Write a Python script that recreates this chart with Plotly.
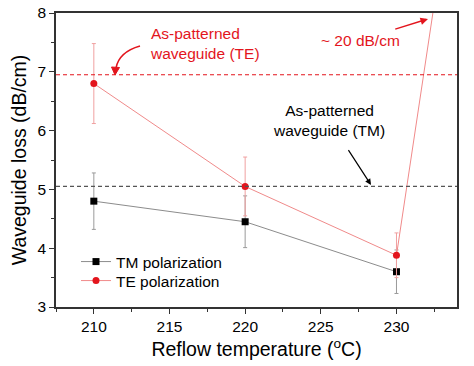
import plotly.graph_objects as go

# ---- data ----
tm_temps = [210, 220, 230]
tm_loss = [4.80, 4.45, 3.60]
tm_err = [0.48, 0.44, 0.37]

te_temps = [210, 220, 230, 240]
te_loss = [6.80, 5.05, 3.88, 21.0]
te_err = [0.68, 0.50, 0.38, 0.0]

te_as_patterned = 6.95
tm_as_patterned = 5.05

x_ticks = [210, 215, 220, 225, 230]
y_ticks = [3, 4, 5, 6, 7, 8]

# ---- layout geometry (pixels) ----
W, H = 474, 366
L, R, T, B = 56, 17, 13, 59
PW, PH = W - L - R, H - T - B

def px(xp):
    return (xp - L) / PW

def py(yp):
    return (H - B - yp) / PH

RED = "#e3151d"
FONT = "Arial, Liberation Sans, sans-serif"

fig = go.Figure()

fig.add_trace(go.Scatter(
    x=tm_temps, y=tm_loss, mode="lines+markers", name="TM polarization",
    legend="legend",
    line=dict(color="#8c8c8c", width=1),
    marker=dict(symbol="square", color="black", size=7),
    error_y=dict(type="data", array=tm_err, color="#9a9a9a", thickness=1, width=2),
))
fig.add_trace(go.Scatter(
    x=te_temps, y=te_loss, mode="lines+markers", name="TE polarization",
    legend="legend2",
    line=dict(color="#f08a8a", width=1),
    marker=dict(symbol="circle", color=RED, size=7),
    error_y=dict(type="data", array=te_err, color="#f0a0a0", thickness=1, width=2),
))

# reference dashed lines
fig.add_shape(type="line", xref="paper", x0=0, x1=1, yref="y",
              y0=te_as_patterned, y1=te_as_patterned,
              line=dict(color=RED, width=1.2, dash="4px,3px"))
fig.add_shape(type="line", xref="paper", x0=0, x1=1, yref="y",
              y0=tm_as_patterned, y1=tm_as_patterned,
              line=dict(color="#555555", width=1.2, dash="4px,3px"))

# curved arrow for TE label (curve + filled head)
fig.add_shape(type="path", xref="paper", yref="paper",
              path=f"M {px(140)},{py(46)} Q {px(119)},{py(52)} {px(116)},{py(68)}",
              line=dict(color=RED, width=1.5))
fig.add_shape(type="path", xref="paper", yref="paper",
              path=f"M {px(115)},{py(75)} L {px(111.5)},{py(67)} L {px(119.5)},{py(67.5)} Z",
              fillcolor=RED, line=dict(color=RED, width=1))

annotations = [
    dict(x=px(148), y=py(43), xref="paper", yref="paper", xanchor="left", yanchor="middle",
         text="As-patterned<br>waveguide (TE)", align="left", showarrow=False,
         font=dict(color=RED, size=15.5, family=FONT)),
    dict(x=px(428), y=py(19), xref="paper", yref="paper",
         text="~ 20 dB/cm", showarrow=True, ax=-68, ay=21, startstandoff=3,
         arrowhead=2, arrowsize=1, arrowwidth=1.5, arrowcolor=RED,
         font=dict(color=RED, size=15.5, family=FONT)),
    dict(x=px(371), y=py(185), xref="paper", yref="paper",
         text="As-patterned<br>waveguide (TM)", align="center", showarrow=True,
         ax=-42, ay=-65, startstandoff=12,
         arrowhead=2, arrowsize=1, arrowwidth=1.2, arrowcolor="black",
         font=dict(color="black", size=15.5, family=FONT)),
]

leg_common = dict(xanchor="left", yanchor="middle", bgcolor="rgba(0,0,0,0)",
                  font=dict(size=15.5, family=FONT), itemclick=False, itemdoubleclick=False)

fig.update_layout(
    width=W, height=H,
    margin=dict(l=L, r=R, t=T, b=B, autoexpand=False),
    paper_bgcolor="white", plot_bgcolor="white",
    font=dict(family=FONT, size=15, color="black"),
    annotations=annotations,
    showlegend=True,
    legend=dict(x=px(76), y=py(262), **leg_common),
    legend2=dict(x=px(76), y=py(281), **leg_common),
    xaxis=dict(
        range=[207.5, 234], tickvals=x_ticks, ticks="outside", ticklen=5,
        tickwidth=1.2, tickcolor="#333", showline=True, linecolor="#333", linewidth=1.5,
        mirror=True, showgrid=False, zeroline=False, automargin=False,
        tickfont=dict(size=15.5),
        minor=dict(dtick=2.5, tick0=207.5, ticks="outside", ticklen=3, tickcolor="#333", showgrid=False),
        title=dict(text="Reflow temperature (<sup>o</sup>C)", font=dict(size=19.5), standoff=8),
    ),
    yaxis=dict(
        range=[3, 8], tickvals=y_ticks, ticks="outside", ticklen=5,
        tickwidth=1.2, tickcolor="#333", showline=True, linecolor="#333", linewidth=1.5,
        mirror=True, showgrid=False, zeroline=False, automargin=False,
        tickfont=dict(size=15.5),
        minor=dict(dtick=0.5, tick0=3, ticks="outside", ticklen=3, tickcolor="#333", showgrid=False),
        title=dict(text="Waveguide loss (dB/cm)", font=dict(size=19.5), standoff=6),
    ),
)

fig.write_html("out.html", config={"displayModeBar": False},
               post_script="document.body.style.margin='0';document.body.style.overflow='hidden';")
